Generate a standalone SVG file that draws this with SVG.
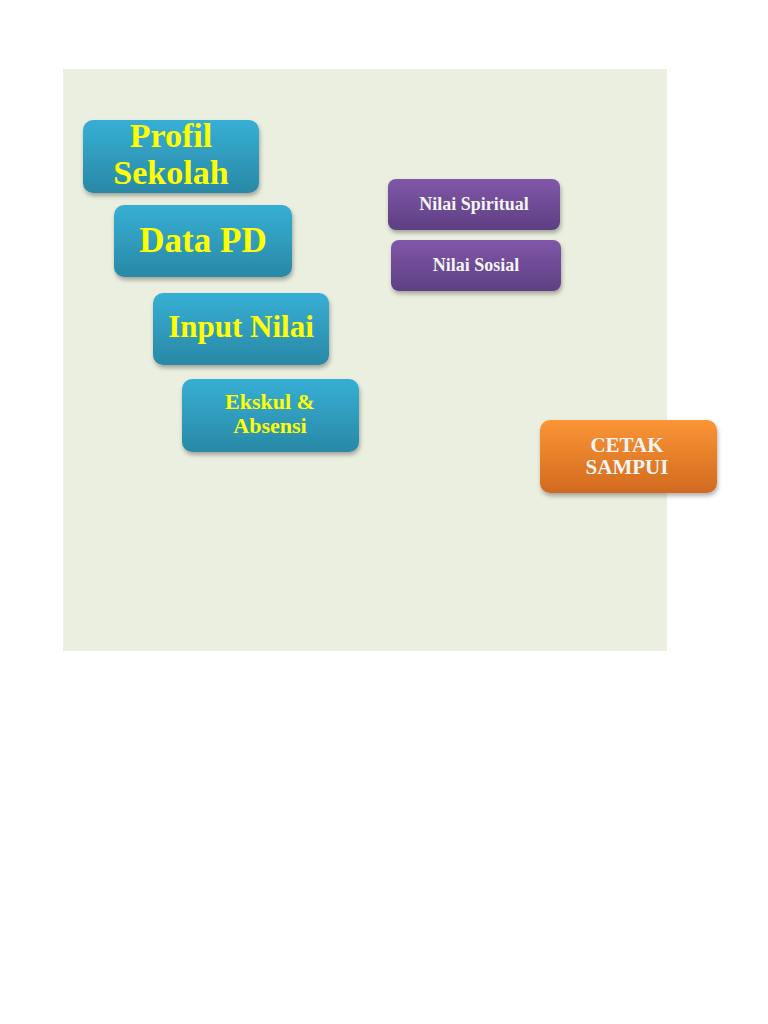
<svg xmlns="http://www.w3.org/2000/svg" width="768" height="1024" viewBox="0 0 768 1024">
<defs>
<linearGradient id="gBlue" x1="0" y1="0" x2="0" y2="1"><stop offset="0" stop-color="#36AFD4"/><stop offset="1" stop-color="#2A88A6"/></linearGradient>
<linearGradient id="gPurple" x1="0" y1="0" x2="0" y2="1"><stop offset="0" stop-color="#8057A8"/><stop offset="1" stop-color="#5E3F83"/></linearGradient>
<linearGradient id="gOrange" x1="0" y1="0" x2="0" y2="1"><stop offset="0" stop-color="#FB9535"/><stop offset="1" stop-color="#D16A1F"/></linearGradient>
<filter id="sh" x="-10%" y="-10%" width="125%" height="135%"><feDropShadow dx="1" dy="3" stdDeviation="2" flood-color="#000" flood-opacity="0.3"/></filter>
</defs>
<style>
.t{font-family:"Liberation Serif","DejaVu Serif",serif;font-weight:bold;text-anchor:middle}
.y{fill:#FFFF00}
.w{fill:#F4F4F4}
</style>
<rect width="768" height="1024" fill="#FFFFFF"/>
<rect x="63" y="69" width="604" height="582" fill="#EAEFDF"/>
<g id="connectors"/>
<g id="profil-sekolah"><rect x="83" y="120" width="176" height="73" rx="10" fill="url(#gBlue)" filter="url(#sh)"/><text class="t y" x="171" y="147" font-size="34">Profil</text><text class="t y" x="171" y="184" font-size="34">Sekolah</text></g>
<g id="data-pd"><rect x="114" y="205" width="178" height="72" rx="10" fill="url(#gBlue)" filter="url(#sh)"/><text class="t y" x="203" y="252" font-size="35">Data PD</text></g>
<g id="input-nilai"><rect x="153" y="293" width="176" height="72" rx="10" fill="url(#gBlue)" filter="url(#sh)"/><text class="t y" x="241" y="337" font-size="31">Input Nilai</text></g>
<g id="ekskul-absensi"><rect x="182" y="379" width="177" height="73" rx="10" fill="url(#gBlue)" filter="url(#sh)"/><text class="t y" x="270" y="409" font-size="22">Ekskul &amp;</text><text class="t y" x="270" y="433" font-size="22">Absensi</text></g>
<g id="nilai-spiritual"><rect x="388" y="179" width="172" height="51" rx="8" fill="url(#gPurple)" filter="url(#sh)"/><text class="t w" x="474" y="210" font-size="18">Nilai Spiritual</text></g>
<g id="nilai-sosial"><rect x="391" y="240" width="170" height="51" rx="8" fill="url(#gPurple)" filter="url(#sh)"/><text class="t w" x="476" y="271" font-size="18">Nilai Sosial</text></g>
<g id="cetak-sampui"><rect x="540" y="420" width="177" height="73" rx="10" fill="url(#gOrange)" filter="url(#sh)"/><text class="t w" x="627" y="452" font-size="21">CETAK</text><text class="t w" x="627" y="474" font-size="21">SAMPUI</text></g>
</svg>
